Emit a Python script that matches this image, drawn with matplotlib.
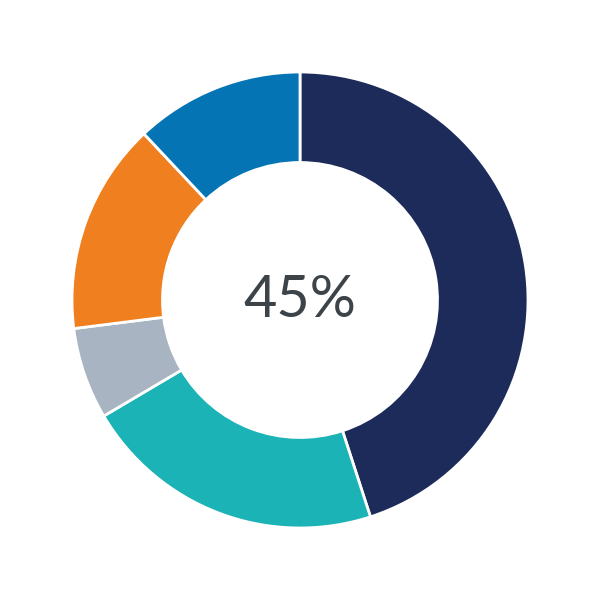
import matplotlib.pyplot as plt

shares = [45, 21.5, 6.5, 15, 12]
colors = ['#1d2b5a', '#1bb3b5', '#a9b4c2', '#f07f1f', '#0474b5']
center_label = '45%'

fig = plt.figure(figsize=(6, 6), dpi=100)
ax = fig.add_axes([0, 0, 1, 1])

ax.pie(shares, colors=colors, startangle=90, counterclock=False, radius=1,
       wedgeprops=dict(width=1 - 137.5 / 228, edgecolor='white', linewidth=2))
ax.text(0, 0.0, center_label, ha='center', va='center', fontsize=41.5,
        color='#3d4449', family='Lato')

lim = 300 / 228
ax.set_xlim(-lim, lim)
ax.set_ylim(-lim, lim)
ax.set_aspect('equal')
ax.axis('off')

fig.savefig('out.png', dpi=100, facecolor='white')
